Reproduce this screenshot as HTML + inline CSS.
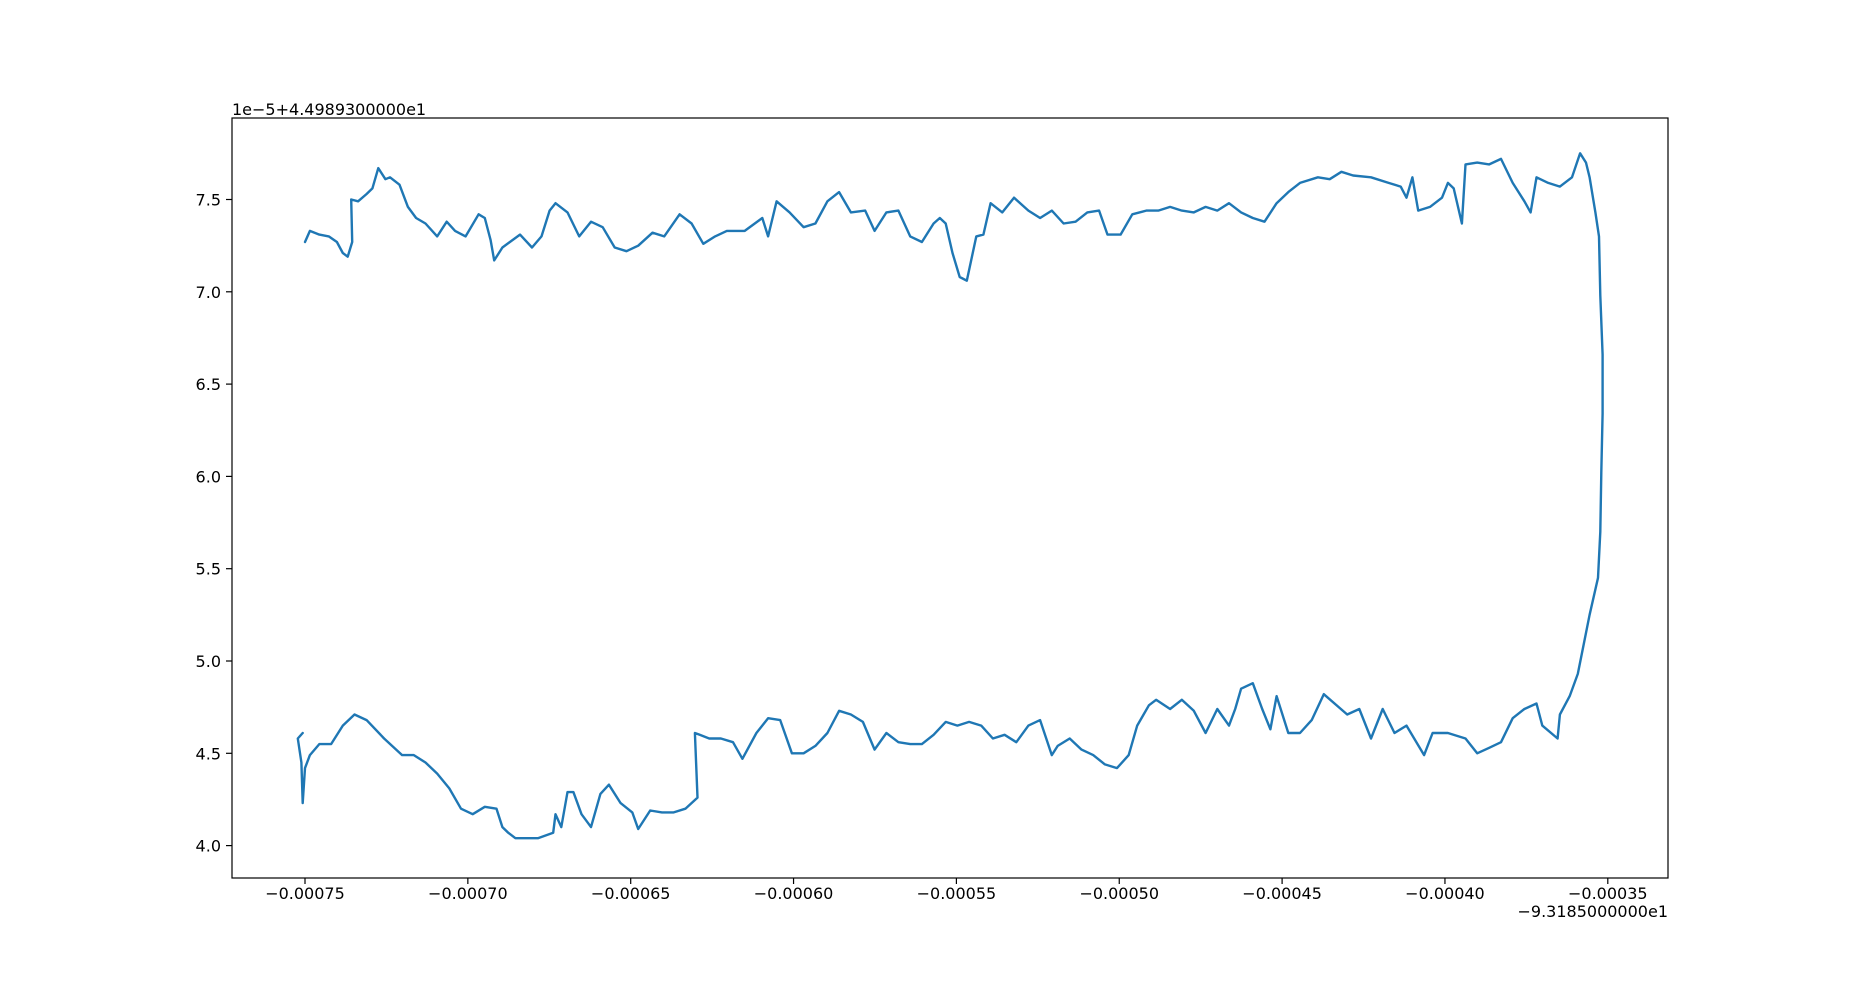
<!DOCTYPE html>
<html><head><meta charset="utf-8"><style>
html,body{margin:0;padding:0;background:#fff;}
svg{display:block;font-family:"DejaVu Sans","Liberation Sans",sans-serif;}
</style></head><body>
<svg id="chart" width="1853" height="986" viewBox="0 0 1853 986" xmlns="http://www.w3.org/2000/svg">
<rect x="0" y="0" width="1853" height="986" fill="#fff"/>
<g id="ticks"></g>
<path id="series" fill="none" stroke="#1f77b4" stroke-width="2.4" stroke-linejoin="round" stroke-linecap="round"/>
<rect x="232" y="118" width="1436" height="760" fill="none" stroke="#000" stroke-width="1.2"/>
<text x="232" y="115" font-size="16" fill="#000">1e−5+4.4989300000e1</text>
<text x="1668" y="917" font-size="16" fill="#000" text-anchor="end">−9.3185000000e1</text>
</svg>
<script>
// x in units of 1e-5 (relative to offset), y in units of 1e-5
const xTicks = [-75,-70,-65,-60,-55,-50,-45,-40,-35];
const xTickLabels = ["−0.00075","−0.00070","−0.00065","−0.00060","−0.00055","−0.00050","−0.00045","−0.00040","−0.00035"];
const yTicks = [4.0,4.5,5.0,5.5,6.0,6.5,7.0,7.5];
const yTickLabels = ["4.0","4.5","5.0","5.5","6.0","6.5","7.0","7.5"];
const lonValues = [-75.00,-74.85,-74.56,-74.27,-74.02,-73.84,-73.69,-73.55,-73.58,-73.37,-73.11,-72.93,-72.75,-72.53,-72.39,-72.10,-71.84,-71.59,-71.30,-70.94,-70.65,-70.39,-70.07,-69.67,-69.48,-69.30,-69.19,-68.94,-68.40,-68.03,-67.74,-67.49,-67.31,-66.94,-66.58,-66.22,-65.86,-65.49,-65.13,-64.77,-64.33,-63.97,-63.50,-63.13,-62.77,-62.41,-62.05,-61.50,-60.96,-60.78,-60.52,-60.12,-59.69,-59.33,-58.96,-58.60,-58.24,-57.80,-57.51,-57.15,-56.78,-56.42,-56.06,-55.70,-55.51,-55.33,-55.12,-54.90,-54.68,-54.39,-54.17,-53.95,-53.59,-53.23,-52.79,-52.43,-52.07,-51.71,-51.34,-50.98,-50.62,-50.36,-49.96,-49.60,-49.17,-48.80,-48.44,-48.08,-47.71,-47.35,-46.99,-46.63,-46.26,-45.90,-45.54,-45.17,-44.81,-44.45,-43.90,-43.54,-43.18,-42.82,-42.27,-41.73,-41.36,-41.18,-41.00,-40.82,-40.46,-40.09,-39.91,-39.73,-39.48,-39.37,-39.01,-38.64,-38.28,-37.92,-37.56,-37.37,-37.19,-36.83,-36.47,-36.10,-35.85,-35.67,-35.56,-35.38,-35.27,-35.23,-35.16,-35.16,-35.20,-35.23,-35.30,-35.56,-35.74,-35.92,-36.17,-36.47,-36.54,-37.01,-37.19,-37.56,-37.92,-38.28,-38.64,-39.01,-39.37,-39.91,-40.38,-40.64,-41.18,-41.55,-41.91,-42.27,-42.63,-43.00,-43.72,-44.09,-44.45,-44.81,-45.17,-45.36,-45.61,-45.90,-46.26,-46.44,-46.63,-46.99,-47.35,-47.71,-48.08,-48.44,-48.87,-49.09,-49.45,-49.71,-50.07,-50.44,-50.80,-51.16,-51.52,-51.89,-52.07,-52.43,-52.79,-53.16,-53.52,-53.88,-54.24,-54.61,-54.97,-55.33,-55.70,-56.06,-56.42,-56.78,-57.15,-57.51,-57.87,-58.24,-58.60,-58.96,-59.33,-59.69,-60.05,-60.41,-60.78,-61.14,-61.57,-61.86,-62.23,-62.59,-62.88,-63.03,-62.95,-63.32,-63.68,-64.04,-64.40,-64.77,-64.95,-65.31,-65.67,-65.93,-66.22,-66.51,-66.76,-66.94,-67.13,-67.31,-67.38,-67.85,-68.21,-68.54,-68.76,-68.94,-69.12,-69.48,-69.85,-70.21,-70.57,-70.94,-71.30,-71.66,-72.02,-72.57,-73.11,-73.48,-73.84,-74.20,-74.56,-74.85,-75.00,-75.07,-75.11,-75.22,-75.07];
const latValues = [7.27,7.33,7.31,7.30,7.27,7.21,7.19,7.27,7.50,7.49,7.53,7.56,7.67,7.61,7.62,7.58,7.46,7.40,7.37,7.30,7.38,7.33,7.30,7.42,7.40,7.28,7.17,7.24,7.31,7.24,7.30,7.44,7.48,7.43,7.30,7.38,7.35,7.24,7.22,7.25,7.32,7.30,7.42,7.37,7.26,7.30,7.33,7.33,7.40,7.30,7.49,7.43,7.35,7.37,7.49,7.54,7.43,7.44,7.33,7.43,7.44,7.30,7.27,7.37,7.40,7.37,7.21,7.08,7.06,7.30,7.31,7.48,7.43,7.51,7.44,7.40,7.44,7.37,7.38,7.43,7.44,7.31,7.31,7.42,7.44,7.44,7.46,7.44,7.43,7.46,7.44,7.48,7.43,7.40,7.38,7.48,7.54,7.59,7.62,7.61,7.65,7.63,7.62,7.59,7.57,7.51,7.62,7.44,7.46,7.51,7.59,7.56,7.37,7.69,7.70,7.69,7.72,7.59,7.49,7.43,7.62,7.59,7.57,7.62,7.75,7.70,7.62,7.43,7.30,6.98,6.66,6.34,6.02,5.70,5.45,5.25,5.09,4.93,4.81,4.71,4.58,4.65,4.77,4.74,4.69,4.56,4.53,4.50,4.58,4.61,4.61,4.49,4.65,4.61,4.74,4.58,4.74,4.71,4.82,4.68,4.61,4.61,4.81,4.63,4.74,4.88,4.85,4.74,4.65,4.74,4.61,4.73,4.79,4.74,4.79,4.76,4.65,4.49,4.42,4.44,4.49,4.52,4.58,4.54,4.49,4.68,4.65,4.56,4.60,4.58,4.65,4.67,4.65,4.67,4.60,4.55,4.55,4.56,4.61,4.52,4.67,4.71,4.73,4.61,4.54,4.50,4.50,4.68,4.69,4.61,4.47,4.56,4.58,4.58,4.60,4.61,4.26,4.20,4.18,4.18,4.19,4.09,4.18,4.23,4.33,4.28,4.10,4.17,4.29,4.29,4.10,4.17,4.07,4.04,4.04,4.04,4.07,4.10,4.20,4.21,4.17,4.20,4.31,4.39,4.45,4.49,4.49,4.58,4.68,4.71,4.65,4.55,4.55,4.49,4.42,4.23,4.45,4.58,4.61];

const X0=305, XPER=32.57, Y0=199.5, YPER=184.6;
function xScale(v){return X0+(v+75)*XPER;}
function yScale(v){return Y0+(7.5-v)*YPER;}
const NS="http://www.w3.org/2000/svg";
const g=document.getElementById('ticks');
xTicks.forEach((t,i)=>{
  const x=xScale(t);
  const l=document.createElementNS(NS,'line');
  l.setAttribute('x1',x);l.setAttribute('x2',x);l.setAttribute('y1',878);l.setAttribute('y2',884);
  l.setAttribute('stroke','#000');l.setAttribute('stroke-width','1.2');
  
  
  g.appendChild(l);
  const tx=document.createElementNS(NS,'text');
  tx.setAttribute('x',x);tx.setAttribute('y',899);tx.setAttribute('font-size','16');tx.setAttribute('text-anchor','middle');
  tx.textContent=xTickLabels[i];
  
  
  g.appendChild(tx);
});
yTicks.forEach((t,i)=>{
  const y=yScale(t);
  const l=document.createElementNS(NS,'line');
  l.setAttribute('x1',226);l.setAttribute('x2',232);l.setAttribute('y1',y);l.setAttribute('y2',y);
  l.setAttribute('stroke','#000');l.setAttribute('stroke-width','1.2');
  
  
  g.appendChild(l);
  const tx=document.createElementNS(NS,'text');
  tx.setAttribute('x',221);tx.setAttribute('y',y+6);tx.setAttribute('font-size','16');tx.setAttribute('text-anchor','end');
  tx.textContent=yTickLabels[i];
  
  
  g.appendChild(tx);
});
let d='';
lonValues.forEach((v,i)=>{d+=(i?'L':'M')+xScale(v).toFixed(1)+','+yScale(latValues[i]).toFixed(1);});
document.getElementById('series').setAttribute('d',d);
</script>
</body></html>
